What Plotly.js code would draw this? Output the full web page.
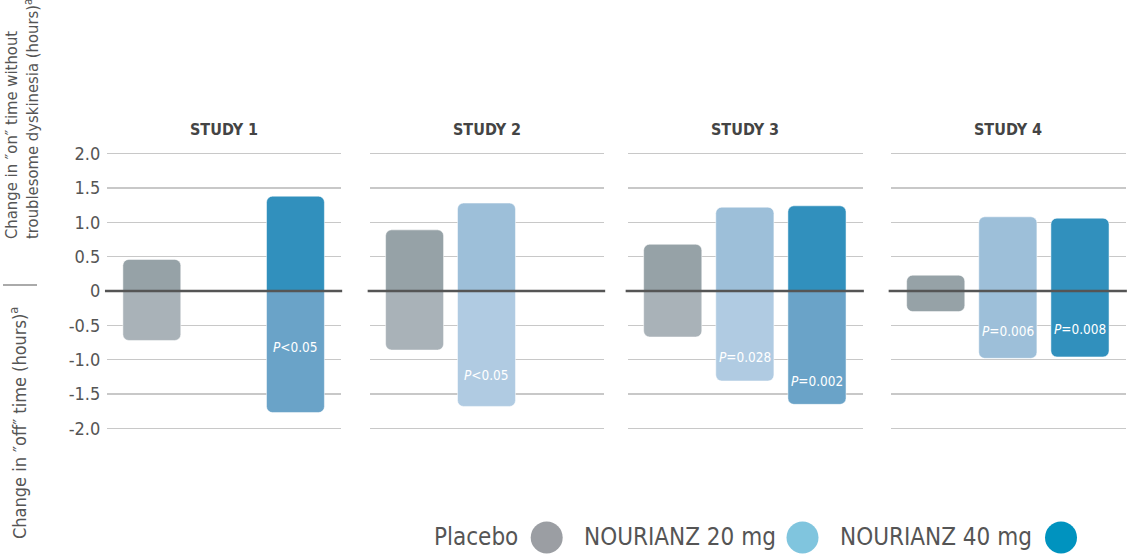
<!DOCTYPE html>
<html><head><meta charset="utf-8">
<script src="https://cdn.plot.ly/plotly-3.0.1.min.js"></script>
<style>html,body{margin:0;padding:0;background:#fff;}#chart{width:1132px;height:557px;}</style>
</head><body><div id="chart"></div>
<script>
// ---------- DATA ----------
const studies = ["STUDY 1", "STUDY 2", "STUDY 3", "STUDY 4"];
const groups = ["Placebo", "NOURIANZ 20 mg", "NOURIANZ 40 mg"];
// Change in "on" time without troublesome dyskinesia (hours), per group
const onStudy1 = [0.46, null, 1.38];
const onStudy2 = [0.89, 1.28, null];
const onStudy3 = [0.68, 1.22, 1.24];
const onStudy4 = [0.23, 1.08, 1.06];
// Change in "off" time (hours), per group
const offStudy1 = [-0.72, null, -1.77];
const offStudy2 = [-0.86, -1.68, null];
const offStudy3 = [-0.67, -1.31, -1.65];
const offStudy4 = [-0.30, -0.98, -0.96];
// P-value labels, per group
const pStudy1 = ["", "", "<i>P</i>&lt;0.05"];
const pStudy2 = ["", "<i>P</i>&lt;0.05", ""];
const pStudy3 = ["", "<i>P</i>=0.028", "<i>P</i>=0.002"];
const pStudy4 = ["", "<i>P</i>=0.006", "<i>P</i>=0.008"];
const tickVals = [2, 1.5, 1, 0.5, 0, -0.5, -1, -1.5, -2];
const tickText = ["2.0", "1.5", "1.0", "0.5", "0", "-0.5", "-1.0", "-1.5", "-2.0"];

// ---------- STYLE ----------
const FONT = '"DejaVu Sans Condensed", "Liberation Sans Narrow", "Roboto Condensed", Roboto, sans-serif';
const W = 1132, H = 557;
const onColors = ["#96a2a7", "#9dbfd9", "#3190bd"];
const offColors = ["#a9b2b8", "#b0cbe2", "#6aa3c8"];
const offColorsS4 = onColors;
const legendColors = ["#9b9ea3", "#80c5de", "#0093bf"];
const panelPx = [[107.3, 341], [370, 604], [628, 862.7], [891, 1125.7]];
const pxPerUnit = 68.7, zeroPx = 291, topPx = 140, botPx = 440;
const yRange = [-(botPx - zeroPx) / pxPerUnit, (zeroPx - topPx) / pxPerUnit];
const yDomain = [(H - botPx) / H, (H - topPx) / H];
const pShift = [[0, 0, 66], [0, 31, 0], [0, 24, 23], [0, 27, 28]];

const onData = [onStudy1, onStudy2, onStudy3, onStudy4];
const offData = [offStudy1, offStudy2, offStudy3, offStudy4];
const pData = [pStudy1, pStudy2, pStudy3, pStudy4];

const traces = [];
const layout = {
  width: W, height: H,
  margin: {l: 0, r: 0, t: 0, b: 0},
  paper_bgcolor: "#ffffff", plot_bgcolor: "rgba(0,0,0,0)",
  barmode: "relative",
  showlegend: false,
  font: {family: FONT, color: "#555555"},
  annotations: [], shapes: []
};

studies.forEach((name, i) => {
  const n = i + 1, xa = "x" + (n === 1 ? "" : n), ya = "y" + (n === 1 ? "" : n);
  const common = {type: "bar", x: groups, xaxis: xa, yaxis: ya, width: 0.806,
                  hoverinfo: "skip", showlegend: false};
  traces.push(Object.assign({}, common, {
    y: onData[i],
    marker: {color: onColors, cornerradius: 6, line: {color: "rgba(255,255,255,0.5)", width: 1}}
  }));
  traces.push(Object.assign({}, common, {
    y: offData[i],
    marker: {color: n === 4 ? offColorsS4 : offColors, cornerradius: 6, line: {color: "rgba(255,255,255,0.5)", width: 1}}
  }));
  const xk = "xaxis" + (n === 1 ? "" : n), yk = "yaxis" + (n === 1 ? "" : n);
  layout[xk] = {
    domain: [panelPx[i][0] / W, panelPx[i][1] / W], anchor: ya,
    type: "category", categoryarray: groups, categoryorder: "array",
    range: [-0.62, 2.634], fixedrange: true,
    showgrid: false, zeroline: false, showticklabels: false, ticks: "", showline: false
  };
  layout[yk] = {
    domain: yDomain, anchor: xa, range: yRange, fixedrange: true,
    tickmode: "array", tickvals: tickVals, ticktext: tickText,
    showticklabels: n === 1, ticks: "", ticklabelstandoff: 6,
    tickfont: {family: FONT, size: 18, color: "#555555"},
    showgrid: true, gridcolor: "#c8c8c8", gridwidth: 1.5,
    zeroline: false, showline: false
  };
  // zero line above bars
  layout.shapes.push({type: "line", xref: xa + " domain", yref: ya, x0: -0.01, x1: 1.005, y0: 0, y1: 0,
    line: {color: "#555555", width: 2.5}, layer: "above"});
  // study title
  layout.annotations.push({xref: xa + " domain", yref: "paper", x: 0.5, y: 1 - 129 / H,
    xanchor: "center", yanchor: "middle", showarrow: false,
    text: "<b>" + name + "</b>", font: {family: FONT, size: 16, color: "#444444"}});
  // P-value labels
  pData[i].forEach((t, g) => {
    if (!t) return;
    layout.annotations.push({xref: xa, yref: ya, x: groups[g], y: offData[i][g],
      xanchor: "center", yanchor: "middle", yshift: pShift[i][g], showarrow: false,
      text: t, font: {family: FONT, size: 13.5, color: "#ffffff"}});
  });
});

// y-axis titles
layout.annotations.push({xref: "paper", yref: "paper", x: 0, y: 1 - 241 / H,
  xanchor: "left", yanchor: "bottom", textangle: -90, showarrow: false, align: "left",
  text: "Change in ″on″ time without<br>troublesome dyskinesia (hours)<sup>a</sup>",
  font: {family: FONT, size: 16.5, color: "#555555"}});
layout.annotations.push({xref: "paper", yref: "paper", x: 4 / W, y: 1 - 541 / H,
  xanchor: "left", yanchor: "bottom", textangle: -90, showarrow: false,
  text: "Change in ″off″ time (hours)<sup>a</sup>",
  font: {family: FONT, size: 18, color: "#555555"}});
layout.shapes.push({type: "line", xref: "paper", yref: "paper", x0: 3 / W, x1: 37 / W,
  y0: 1 - 285 / H, y1: 1 - 285 / H, line: {color: "#aaaaaa", width: 2}});

// legend (text then dot)
const legTextRight = [520, 778, 1034];
const legDotCx = [546.7, 802.5, 1061];
groups.forEach((g, k) => {
  layout.annotations.push({xref: "paper", yref: "paper", x: legTextRight[k] / W, y: 1 - 537 / H,
    xanchor: "right", yanchor: "middle", showarrow: false, text: g,
    font: {family: FONT, size: 24, color: "#555555"}});
  layout.shapes.push({type: "circle", xref: "paper", yref: "paper",
    xsizemode: "pixel", ysizemode: "pixel", xanchor: legDotCx[k] / W, yanchor: 1 - 537.5 / H,
    x0: -16, x1: 16, y0: -16, y1: 16, fillcolor: legendColors[k], line: {width: 0}});
});

Plotly.newPlot("chart", traces, layout, {displayModeBar: false, staticPlot: true});
</script></body></html>
